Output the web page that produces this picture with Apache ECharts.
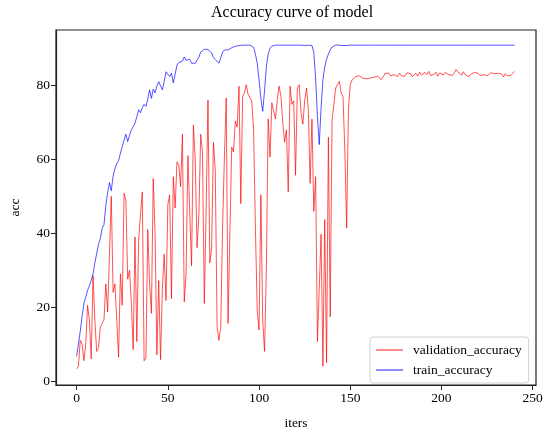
<!DOCTYPE html>
<html>
<head>
<meta charset="utf-8">
<script src="https://cdn.jsdelivr.net/npm/echarts@6/dist/echarts.min.js"></script>
<style>html,body{margin:0;padding:0;background:#fff;}#c{width:550px;height:435px;}</style>
</head>
<body>
<div id="c"></div>
<script>
var xTicks = [0, 50, 100, 150, 200, 250];
var yTicks = [0, 20, 40, 60, 80];
var seriesNames = ['validation_accuracy', 'train_accuracy'];

var validationAccuracy = [3.3,4,11,10,5.5,10,20.5,16.5,6,28.5,
16.5,8,9,14.7,14.7,16.5,26.3,18.7,19.2,50,
24,26.3,16.5,6.4,29,20.5,50.8,49,27.6,30,
21,8.5,39,10.7,38,45,51.2,5.5,6.2,41,
26.5,18.3,54.8,40,7.1,27.2,5.8,25,34.3,21.8,
47.7,50.4,22.3,55.3,46.8,59.3,58.4,52.6,66.8,21.4,
29,61,45.9,31.2,69.3,60.2,36.1,44.6,66.8,62,
21,46.8,76,32,36,64.6,57,14.7,11,14.7,
41.4,60.6,76.6,15.6,39.7,63.3,62,70.4,68.7,79.8,
48,77,78,80.2,77.5,77,75.8,68,41.4,19,
13.8,50.4,16.5,8,30,70.9,60.6,75.3,75,70.9,
76.2,79.8,77,70,64.6,68,51.2,79.8,74.9,75.8,
55.7,79.3,80.2,72.6,69.5,75.8,79.3,73.5,53.5,70.9,
45.9,55.3,10.7,25,39.7,4,43.7,5,66,17.4,
70.4,70.9,79.3,80.2,81.1,78,77,62.8,41.4,73.5,
80.2,81.5,81.2,
82.4,82.0,82.6,82.3,81.9,82.2,81.8,82.1,82.0,81.7,
82.2,81.8,82.5,82.0,81.6,82.3,83.2,82.7,83.4,82.6,
82.1,82.9,83.1,82.4,83.3,82.6,83.0,82.5,83.4,82.9,
83.2,82.4,82.9,83.3,82.5,83.6,82.8,82.6,83.5,82.9,
83.8,82.7,83.2,83.0,83.6,82.5,83.4,83.1,82.8,83.5,
83.2,82.9,83.3,82.7,83.4,84.3,83.6,83.9,82.8,83.7,
82.9,83.2,82.4,83.0,82.6,83.5,83.6,83.3,82.7,83.1,
82.9,83.2,82.6,82.9,83.4,83.7,83.2,82.9,83.3,83.6,
83.1,82.3,83.2,82.6,83.0,82.7,83.1,83.8];

var trainAccuracy = [6.7,10,13.5,17.5,21,22.7,24.5,25.8,27.2,29,
32,34.5,37,38.5,41.4,42.3,47.5,51,53.7,51.5,
55.5,57.5,58.8,59.7,59.5,63.5,63.8,66.8,64.8,66.5,
68,68.8,69.8,71.5,73.4,72.6,74,74.9,74.3,76.3,
78.8,76.5,79,78,79.8,81,81.5,78.8,81,83.7,
83.3,82.4,83.3,80.7,83,85.5,86.2,86.3,86.6,87.7,
86.8,86.4,87.1,86,86.5,86,86.3,87.6,89,89.3,
89.8,90,89.7,89.4,88.8,87.6,87,86.5,86,87.5,
89,89.6,90,89.6,89.9,90.2,90.5,90.6,90.7,90.8,
90.9,90.9,90.8,90.9,90.9,90.9,
90.8,90.3,88.5,86,81.5,76.5,73,78.5,85,88.5,90,90.6,90.8,
90.9,90.9,90.9,90.8,90.9,90.9,90.9,90.9,90.9,90.8,
90.9,90.9,90.9,90.9,90.9,90.9,90.8,90.9,90.9,90.9,
90.8,89,82,71.5,64,74,81.5,85,87,88.5,89.6,90.4,90.8,
90.9,90.9,90.9,90.9,90.8,90.7,90.8,90.9,90.9,90.9,
90.9,90.9,90.9,90.9,90.9,90.9,90.9,90.9,90.9,90.9,
90.9,90.9,90.9,90.9,90.9,90.9,90.9,90.9,90.9,90.9,
90.9,90.9,90.9,90.9,90.9,90.9,90.9,90.9,90.9,90.9,
90.9,90.9,90.9,90.9,90.9,90.9,90.9,90.9,90.9,90.9,
90.9,90.9,90.9,90.9,90.9,90.9,90.9,90.9,90.9,90.9,
90.9,90.9,90.9,90.9,90.9,90.9,90.9,90.9,90.9,90.9,
90.9,90.9,90.9,90.9,90.9,90.9,90.9,90.9,90.9,90.9,
90.9,90.9,90.9,90.9,90.9,90.9,90.9,90.9,90.9,90.9,
90.9,90.9,90.9,90.9,90.9,90.9,90.9,90.9,90.9];

function pairs(arr) { return arr.map(function (v, i) { return [i, v]; }); }

var font = 'Liberation Serif';
var axisCol = '#222';
var chart = echarts.init(document.getElementById('c'), null, { renderer: 'canvas' });
chart.setOption({
  animation: false,
  backgroundColor: '#fff',
  title: {
    text: 'Accuracy curve of model',
    left: 211, top: 5, padding: 0,
    textStyle: { fontFamily: font, fontSize: 16, fontWeight: 'normal', color: '#000' }
  },
  grid: { left: 52, right: 14, top: 30, bottom: 46, show: true, borderColor: axisCol, borderWidth: 1.2, backgroundColor: 'transparent' },
  legend: {
    orient: 'vertical',
    left: 370, top: 337,
    padding: [6, 7, 6, 6],
    itemGap: 6,
    itemWidth: 27, itemHeight: 1.2,
    icon: 'rect',
    backgroundColor: 'rgba(255,255,255,0.85)',
    borderColor: '#d0d0d0', borderWidth: 1, borderRadius: 3,
    textStyle: { fontFamily: font, fontSize: 13.5, color: '#000', padding: [0, 0, 0, 5] },
    data: [
      { name: seriesNames[0], itemStyle: { color: '#ff4444' } },
      { name: seriesNames[1], itemStyle: { color: '#4444ff' } }
    ]
  },
  xAxis: {
    type: 'value', min: -11.3, max: 251.8,
    name: 'iters', nameLocation: 'middle', nameGap: 31,
    nameTextStyle: { fontFamily: font, fontSize: 13.5, color: '#000' },
    axisLine: { show: true, onZero: false, lineStyle: { color: axisCol, width: 1.2 } },
    axisTick: { show: true, length: 5, customValues: xTicks, lineStyle: { color: axisCol, width: 1 } },
    axisLabel: { customValues: xTicks, fontFamily: font, fontSize: 13.5, color: '#000', margin: 6 },
    splitLine: { show: false }
  },
  yAxis: {
    type: 'value', min: -1.07, max: 95,
    name: 'acc', nameLocation: 'middle', nameGap: 34,
    nameTextStyle: { fontFamily: font, fontSize: 13.5, color: '#000' },
    axisLine: { show: true, onZero: false, lineStyle: { color: axisCol, width: 1.2 } },
    axisTick: { show: true, length: 5, customValues: yTicks, lineStyle: { color: axisCol, width: 1 } },
    axisLabel: { customValues: yTicks, fontFamily: font, fontSize: 13.5, color: '#000', margin: 6 },
    splitLine: { show: false }
  },
  series: [
    {
      name: seriesNames[0], type: 'line', showSymbol: false, symbol: 'none',
      data: pairs(validationAccuracy),
      lineStyle: { color: '#ff0000', width: 0.9, opacity: 0.75 },
      itemStyle: { color: '#ff4444' }
    },
    {
      name: seriesNames[1], type: 'line', showSymbol: false, symbol: 'none',
      data: pairs(trainAccuracy),
      lineStyle: { color: '#0000ff', width: 0.9, opacity: 0.75 },
      itemStyle: { color: '#4444ff' }
    }
  ]
});
</script>
</body>
</html>
